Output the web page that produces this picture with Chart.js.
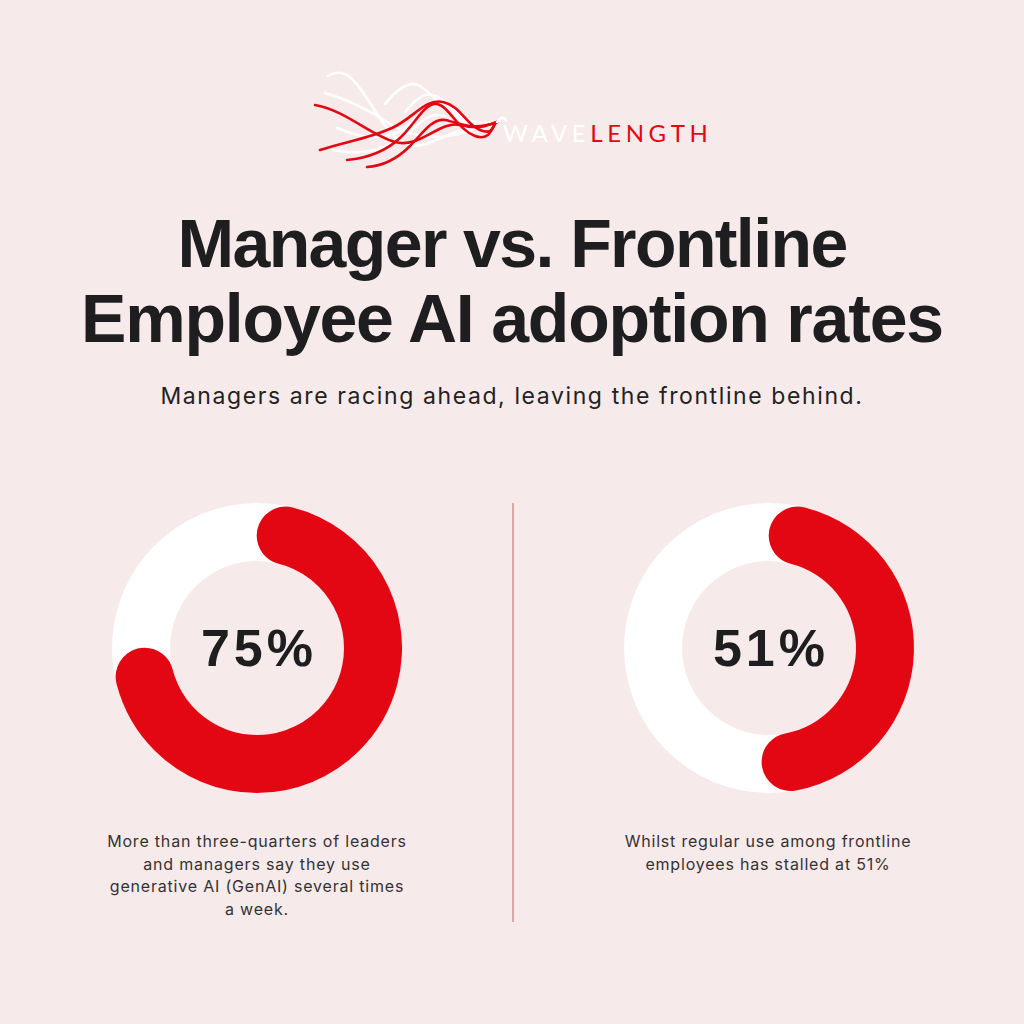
<!DOCTYPE html>
<html>
<head>
<meta charset="utf-8">
<script src="https://cdn.jsdelivr.net/npm/chart.js@4.4.1/dist/chart.umd.min.js"></script>
<style>
  html, body { margin: 0; padding: 0; }
  body {
    width: 1024px; height: 1024px; position: relative; overflow: hidden;
    background: #f7eaea; color: #1e1e20;
    font-family: "Liberation Sans", Arial, sans-serif;
  }
  #logo { position: absolute; left: 0; top: 0; }
  .title {
    position: absolute; left: 0; width: 1024px; text-align: center;
    font-weight: 700; font-size: 68px; line-height: 75px; letter-spacing: -1.6px;
  }
  .subtitle {
    position: absolute; left: 0; top: 381px; width: 1024px; text-align: center;
    font-family: Inter, sans-serif;
    font-size: 23px; line-height: 30px; color: #222; letter-spacing: 1.6px;
  }
  .divider {
    position: absolute; left: 512px; top: 503px; width: 1.5px; height: 419px;
    background: #d9a6a9;
  }
  .donut { position: absolute; top: 498px; width: 300px; height: 300px; }
  .donut canvas { position: absolute; left: 0; top: 0; }
  .donut .label {
    position: absolute; left: 0; top: 0; width: 300px; height: 300px;
    display: flex; align-items: center; justify-content: center;
    font-weight: 700; font-size: 52px; color: #1e1e20;
    letter-spacing: 4px; padding-left: 4px; box-sizing: border-box;
  }
  .caption {
    position: absolute; top: 830px; width: 400px; text-align: center;
    font-family: Inter, sans-serif;
    font-size: 16px; line-height: 22.5px; color: #333; letter-spacing: 0.8px;
  }
</style>
</head>
<body>

<svg id="logo" width="1024" height="200" viewBox="0 0 1024 200">
  <g fill="none" stroke-width="2.6" stroke-linecap="round">
    <path stroke="#ffffff" d="M328,76 C345,66 355,80 368,100 S392,140 410,145 S455,125 497,122"/>
    <path stroke="#ffffff" d="M325,93 C350,100 372,112 392,125 S440,140 465,132 S488,122 497,122"/>
    <path stroke="#ffffff" d="M385,104 C398,88 410,80 420,86 S445,110 460,118 S485,124 497,122"/>
    <path stroke="#ffffff" d="M405,112 C418,96 428,90 440,98 S462,128 497,122"/>
    <path stroke="#ffffff" d="M337,128 C360,138 385,142 405,128 S425,100 440,106 S470,138 497,122"/>
    <path stroke="#ffffff" d="M333,150 C360,156 385,150 405,135 S428,112 445,116"/>
    <path stroke="#e30613" d="M315,105 C345,110 370,135 395,142 S440,120 460,125 S485,126 497,122"/>
    <path stroke="#e30613" d="M320,150 C345,142 370,138 392,128 S425,98 443,102 S465,124 480,130 S492,124 497,122"/>
    <path stroke="#e30613" d="M347,160 C368,158 385,152 400,138 S425,102 437,104 S458,130 475,136 S492,124 497,122"/>
    <path stroke="#e30613" d="M367,167 C385,166 398,158 410,146 S432,118 445,120 S470,132 497,122"/>
    <path stroke="#ffffff" d="M497,122 C500,118 503,116 506,120"/>
  </g>
  <text x="503" y="142" font-family="Lato, 'Open Sans', sans-serif" font-size="24" letter-spacing="4.6">
    <tspan fill="#ffffff">WAVE</tspan><tspan fill="#e30613">LENGTH</tspan>
  </text>
</svg>

<div class="title" style="top:206px">Manager vs. Frontline</div>
<div class="title" style="top:281px; letter-spacing:-1.2px">Employee AI adoption rates</div>
<div class="subtitle">Managers are racing ahead, leaving the frontline behind.</div>

<div class="divider"></div>

<div class="donut" id="donut0" style="left:107px"><canvas id="chart0" width="300" height="300"></canvas><div class="label"></div></div>
<div class="donut" id="donut1" style="left:619px"><canvas id="chart1" width="300" height="300"></canvas><div class="label"></div></div>

<div class="caption" style="left:57px">More than three-quarters of leaders<br>and managers say they use<br>generative AI (GenAI) several times<br>a week.</div>
<div class="caption" style="left:568px">Whilst regular use among frontline<br>employees has stalled at 51%</div>

<script>
const groups = ["Leaders and managers", "Frontline employees"];
const adoptionRates = [75, 51];
const accentColor = "#e30613";
const trackColor = "#ffffff";

// white ring behind the red arc
const trackPlugin = {
  id: "track",
  beforeDatasetsDraw(chart) {
    const arc = chart.getDatasetMeta(0).data[0];
    const { x, y, innerRadius, outerRadius } = arc.getProps(["x", "y", "innerRadius", "outerRadius"], true);
    const ctx = chart.ctx;
    ctx.save();
    ctx.beginPath();
    ctx.arc(x, y, outerRadius, 0, Math.PI * 2);
    ctx.arc(x, y, innerRadius, 0, Math.PI * 2, true);
    ctx.fillStyle = trackColor;
    ctx.fill();
    ctx.restore();
  }
};

adoptionRates.forEach((rate, i) => {
  const ctx = document.getElementById("chart" + i);
  new Chart(ctx, {
    type: "doughnut",
    data: {
      labels: [groups[i], "Other"],
      datasets: [{
        data: [rate, 100 - rate],
        backgroundColor: [accentColor, "rgba(0,0,0,0)"],
        borderWidth: 0,
        borderRadius: (c) => (c.dataIndex === 0 ? 40 : 0),
      }],
    },
    options: {
      responsive: false,
      animation: false,
      cutout: "60%",
      layout: { padding: 5 },
      events: [],
      plugins: { legend: { display: false }, tooltip: { enabled: false } },
    },
    plugins: [trackPlugin],
  });
  document.querySelector("#donut" + i + " .label").textContent = rate + "%";
});
</script>
</body>
</html>
